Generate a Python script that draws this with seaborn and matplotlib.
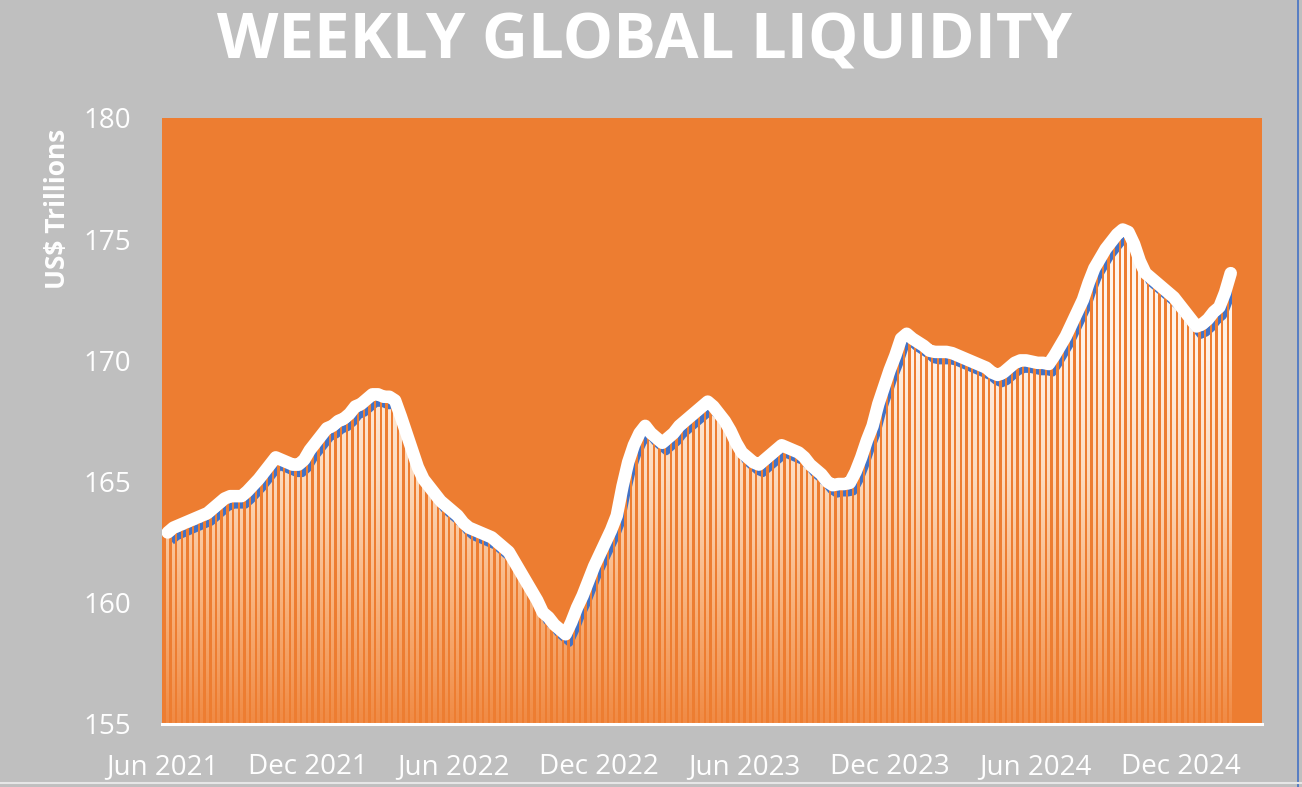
import numpy as np
import matplotlib
matplotlib.use("Agg")
import matplotlib.pyplot as plt
import seaborn as sns
from matplotlib.colors import LinearSegmentedColormap
from matplotlib.path import Path
from matplotlib.transforms import offset_copy
from matplotlib.lines import Line2D

# Weekly global liquidity, US$ trillions
liquidity = [
    162.9, 163.1, 163.2, 163.3, 163.4, 163.5, 163.6, 163.7, 163.9, 164.1,
    164.3, 164.4, 164.4, 164.4, 164.6, 164.85, 165.1, 165.4, 165.7, 166.0,
    165.9, 165.8, 165.7, 165.7, 165.9, 166.3, 166.6, 166.9, 167.2, 167.3,
    167.5, 167.6, 167.8, 168.1, 168.2, 168.4, 168.6, 168.6, 168.5, 168.5,
    168.35, 167.7, 167.0, 166.3, 165.6, 165.1, 164.8, 164.5, 164.2, 164.0,
    163.8, 163.6, 163.3, 163.1, 163.0, 162.9, 162.8, 162.7, 162.5, 162.3,
    162.1, 161.7, 161.3, 160.9, 160.5, 160.1, 159.6, 159.4, 159.1, 158.9,
    158.7, 159.2, 159.8, 160.3, 160.9, 161.5, 162.0, 162.5, 163.0, 163.6,
    164.8, 165.8, 166.5, 167.0, 167.3, 167.0, 166.8, 166.6, 166.8, 167.0,
    167.3, 167.5, 167.7, 167.9, 168.1, 168.3, 168.1, 167.8, 167.5, 167.1,
    166.6, 166.2, 166.0, 165.8, 165.7, 165.9, 166.1, 166.3, 166.5, 166.4,
    166.3, 166.2, 166.0, 165.7, 165.5, 165.3, 165.0, 164.85, 164.9, 164.9,
    164.95, 165.4, 166.0, 166.7, 167.3, 168.2, 168.9, 169.6, 170.2, 170.9,
    171.1, 170.9, 170.75, 170.6, 170.4, 170.35, 170.35, 170.35, 170.3, 170.2,
    170.1, 170.0, 169.9, 169.8, 169.7, 169.5, 169.4, 169.5, 169.7, 169.9,
    170.0, 170.0, 169.95, 169.9, 169.9, 169.85, 170.2, 170.6, 171.0, 171.5,
    172.0, 172.5, 173.2, 173.8, 174.2, 174.6, 174.9, 175.2, 175.4, 175.3,
    174.8, 174.1, 173.6, 173.4, 173.2, 173.0, 172.8, 172.6, 172.3, 172.0,
    171.7, 171.4, 171.5, 171.7, 172.0, 172.2, 172.8, 173.6,
]
month_labels = ["Jun 2021", "Dec 2021", "Jun 2022", "Dec 2022",
                "Jun 2023", "Dec 2023", "Jun 2024", "Dec 2024"]
y_ticks = [155, 160, 165, 170, 175, 180]

BG = "#BFBFBF"
ORANGE = "#ED7D31"
BLUE = "#4472C4"
FONT = "Open Sans"

weeks = np.arange(len(liquidity))
vals = np.array(liquidity)
y_min, y_max = 155, 180
n_slots = 193  # category slots on the axis (data stops a few weeks short)

sns.set_theme(style="white")
plt.rcParams["font.family"] = [FONT, "DejaVu Sans"]

fig = plt.figure(figsize=(13.02, 7.87), dpi=100)
fig.patch.set_facecolor(BG)
ax = fig.add_axes([162 / 1302, 1 - 724 / 787, 1100 / 1302, 606 / 787])
ax.set_facecolor(ORANGE)
ax.set_xlim(-0.5, n_slots - 0.5)
ax.set_ylim(y_min, y_max)

# invisible bars, used as clip region for the gradient fill and blue line
bars = ax.bar(weeks, vals - y_min, bottom=y_min, width=0.58,
              facecolor="none", edgecolor="none", linewidth=0)
bar_path = Path.make_compound_path(
    *[b.get_path().transformed(b.get_patch_transform()) for b in bars])

grad_cmap = LinearSegmentedColormap.from_list(
    "liq", [(0.0, "#F08A44"), (0.2, "#F8B27C"), (0.4, "#FCD9BC"),
            (0.6, "#FEF0E4"), (1.0, "#FFFFFF")])
grad = np.linspace(0, 1, 256).reshape(-1, 1)
im = ax.imshow(grad, extent=[-0.5, n_slots - 0.5, y_min, y_max],
               origin="lower", aspect="auto", cmap=grad_cmap, zorder=2)
im.set_clip_path(bar_path, ax.transData)

# blue series line, shifted down-right under the white glow
shift = offset_copy(ax.transData, fig=fig, x=4, y=-9, units="dots")
blue, = ax.plot(weeks, vals, color=BLUE, lw=5, transform=shift,
                zorder=3, solid_capstyle="butt")
blue.set_clip_path(bar_path, ax.transData)

sns.lineplot(x=weeks, y=vals, ax=ax, color="white", lw=9,
             zorder=4, solid_capstyle="round", solid_joinstyle="round")

for side in ["top", "left", "right"]:
    ax.spines[side].set_visible(False)
ax.spines["bottom"].set_color("white")
ax.spines["bottom"].set_linewidth(2.2)
ax.spines["bottom"].set_zorder(5)

ax.set_yticks(y_ticks)
ax.set_yticklabels([str(t) for t in y_ticks])
ax.set_xticks(np.arange(len(month_labels)) * 25.6 - 1)
ax.set_xticklabels(month_labels)
ax.tick_params(axis="y", length=0, pad=22, labelsize=20, labelcolor="white")
ax.tick_params(axis="x", length=0, pad=21, labelsize=20, labelcolor="white")
ax.set_xlabel("")
ax.set_ylabel("")
ax.grid(False)

fig.text(0.4954, 1 - 42 / 787, "WEEKLY GLOBAL LIQUIDITY", color="white",
         fontsize=45.7, fontweight="bold", ha="center", va="center")
fig.text(57 / 1302, 1 - 209 / 787, "US$ Trillions", color="white",
         fontsize=19, fontweight="bold", rotation=90, ha="center", va="center")

fig.add_artist(Line2D([1298 / 1302, 1298 / 1302], [0, 1], color=BLUE,
                      lw=1.2, transform=fig.transFigure))
fig.add_artist(Line2D([0, 1], [4 / 787, 4 / 787], color="#E6E6E6",
                      lw=1.5, transform=fig.transFigure))

fig.savefig("out.png", dpi=100, facecolor=fig.get_facecolor())
